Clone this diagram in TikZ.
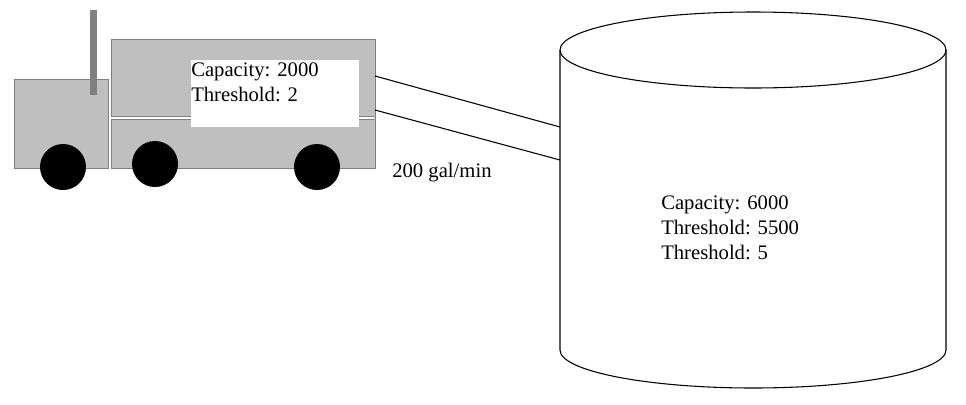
\documentclass[tikz,border=0pt]{standalone}
\usepackage{fontspec}
\setmainfont{Liberation Serif}
\begin{document}
\begin{tikzpicture}[x=0.75pt,y=-0.75pt,
  body/.style={fill=black!25,draw=black!50,line width=0.6pt},
  wheel/.style={fill=black},
  lbl/.style={font=\fontsize{15.5}{19}\selectfont,align=left,inner sep=0pt,anchor=north west}]
\useasboundingbox (0,0) rectangle (966,404);
\node[body,minimum width=94*0.75pt,minimum height=89*0.75pt,inner sep=0pt,anchor=north west] (cab) at (14,79) {};
\node[fill=black!50,minimum width=7*0.75pt,minimum height=85*0.75pt,inner sep=0pt,anchor=north west] (stack) at (90,10) {};
\node[body,minimum width=264*0.75pt,minimum height=129*0.75pt,inner sep=0pt,anchor=north west] (tank) at (111,39) {};
\draw[white,line width=1pt] (111,118) -- (374,118);
\draw[black!50,line width=0.4pt] (111,116.5) -- (374,116.5) (111,119.5) -- (374,119.5);
\node[fill=white,minimum width=168*0.75pt,minimum height=67*0.75pt,inner sep=0pt,anchor=north west] (box) at (191,60) {};
\node[lbl] (tl) at (191,62) {Capacity: 2000\\Threshold: 2};
\node[wheel,circle,minimum size=46*0.75pt,inner sep=0pt] (w1) at (63,167) {};
\node[wheel,circle,minimum size=46*0.75pt,inner sep=0pt] (w2) at (155,164) {};
\node[wheel,circle,minimum size=46*0.75pt,inner sep=0pt] (w3) at (317,167) {};
\coordinate (h1) at (375,76); \coordinate (h2) at (560,127);
\coordinate (h3) at (375,110); \coordinate (h4) at (560,160);
\draw[line width=0.8pt] (h1) -- (h2) (h3) -- (h4);
\node[lbl] (rate) at (392,163) {200 gal/min};
\draw[line width=0.8pt,fill=white] (560,50) -- (560,350) arc[start angle=180,end angle=360,x radius=193,y radius=-38] -- (946,50);
\draw[line width=0.8pt] (753,50) ellipse[x radius=193,y radius=38];
\node[lbl] (cl) at (661,195) {Capacity: 6000\\Threshold: 5500\\Threshold: 5};
\end{tikzpicture}
\end{document}
